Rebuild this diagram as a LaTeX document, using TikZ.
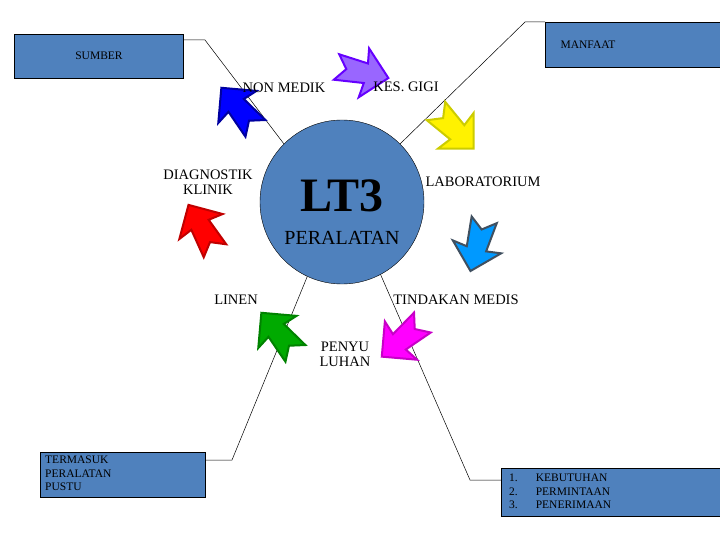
\documentclass[tikz,border=0pt]{standalone}
\usepackage{fontspec}
\setmainfont{Liberation Serif}
\begin{document}
\begin{tikzpicture}[x=1pt,y=-1pt,
  box/.style={draw=black,fill=boxblue,line width=0.6pt},
  lbl/.style={font=\fontsize{14.5}{15}\selectfont,align=center,inner sep=0pt},
  bt/.style={font=\fontsize{11.5}{13.5}\selectfont,inner sep=0pt},
  ln/.style={line width=0.5pt},
  barrow/.pic={\draw[line width=2pt,line join=miter,pic actions] (29,0)--(4,-25)--(6,-10)--(-24,-13)--(-14,0)--(-24,13)--(6,10)--(4,25)--cycle;}]
\definecolor{boxblue}{RGB}{79,129,189}
\useasboundingbox (0,0) rectangle (720,540);
\coordinate (c1) at (205,40); \coordinate (c2) at (525,22);
\coordinate (c3) at (232,460); \coordinate (c4) at (470,480);
\node[circle,draw=black,fill=boxblue,minimum size=164pt,inner sep=0pt] (lt) at (342,202) {};
\node[box,minimum width=169pt,minimum height=44pt,anchor=north west] (sumber) at (14,34) {};
\node[box,minimum width=175pt,minimum height=45pt,anchor=north west] (manfaat) at (545,22) {};
\node[box,minimum width=165pt,minimum height=45pt,anchor=north west] (termasuk) at (40,452) {};
\node[box,minimum width=219pt,minimum height=48pt,anchor=north west] (keb) at (501,468) {};
\draw[ln] (sumber.north east|-c1) -- (c1) -- (lt.135);
\draw[ln] (manfaat.north west) -- (c2) -- (lt.45);
\draw[ln] (termasuk.north east|-c3) -- (c3) -- (lt.-115);
\draw[ln] (keb.west|-c4) -- (c4) -- (lt.-62);
\pic[fill={rgb,255:red,153;green,102;blue,255},draw={rgb,255:red,102;green,0;blue,255},rotate=-12] at (360,72) {barrow};
\pic[fill={rgb,255:red,0;green,0;blue,255},draw={rgb,255:red,0;green,0;blue,160},rotate=130] at (240,110) {barrow};
\pic[fill=yellow,draw={rgb,255:red,204;green,204;blue,0},rotate=-45] at (453,128) {barrow};
\pic[fill=red,draw={rgb,255:red,192;green,0;blue,0},rotate=120] at (203,230) {barrow};
\pic[fill={rgb,255:red,0;green,153;blue,255},draw={rgb,255:red,64;green,80;blue,96},rotate=-105] at (478,243) {barrow};
\pic[fill={rgb,255:red,0;green,170;blue,0},draw={rgb,255:red,0;green,130;blue,0},rotate=130] at (280,335) {barrow};
\pic[fill={rgb,255:red,255;green,0;blue,255},draw={rgb,255:red,200;green,0;blue,200},rotate=-140] at (404,338) {barrow};
\node[font=\bfseries\fontsize{48}{48}\selectfont,inner sep=0pt] (lttxt) at (342,196) {LT3};
\node[font=\fontsize{20}{20}\selectfont,inner sep=0pt] (per) at (342,238) {PERALATAN};
\node[lbl] (nm) at (284,88) {NON MEDIK};
\node[lbl] (kg) at (406,87) {KES. GIGI};
\node[lbl] (dk) at (208,182) {DIAGNOSTIK\\KLINIK};
\node[lbl] (lab) at (483,182) {LABORATORIUM};
\node[lbl] (lin) at (236,300) {LINEN};
\node[lbl] (tm) at (456,300) {TINDAKAN MEDIS};
\node[lbl] (pl) at (345,354) {PENYU\\LUHAN};
\node[bt] at (99,56) {SUMBER};
\node[bt] at (588,45) {MANFAAT};
\node[bt,align=left,anchor=north west] at (45,456) {TERMASUK\\PERALATAN\\PUSTU};
\node[bt,align=left,anchor=north west] at (509,474) {1.\hspace{18pt}KEBUTUHAN\\2.\hspace{18pt}PERMINTAAN\\3.\hspace{18pt}PENERIMAAN};
\end{tikzpicture}
\end{document}
